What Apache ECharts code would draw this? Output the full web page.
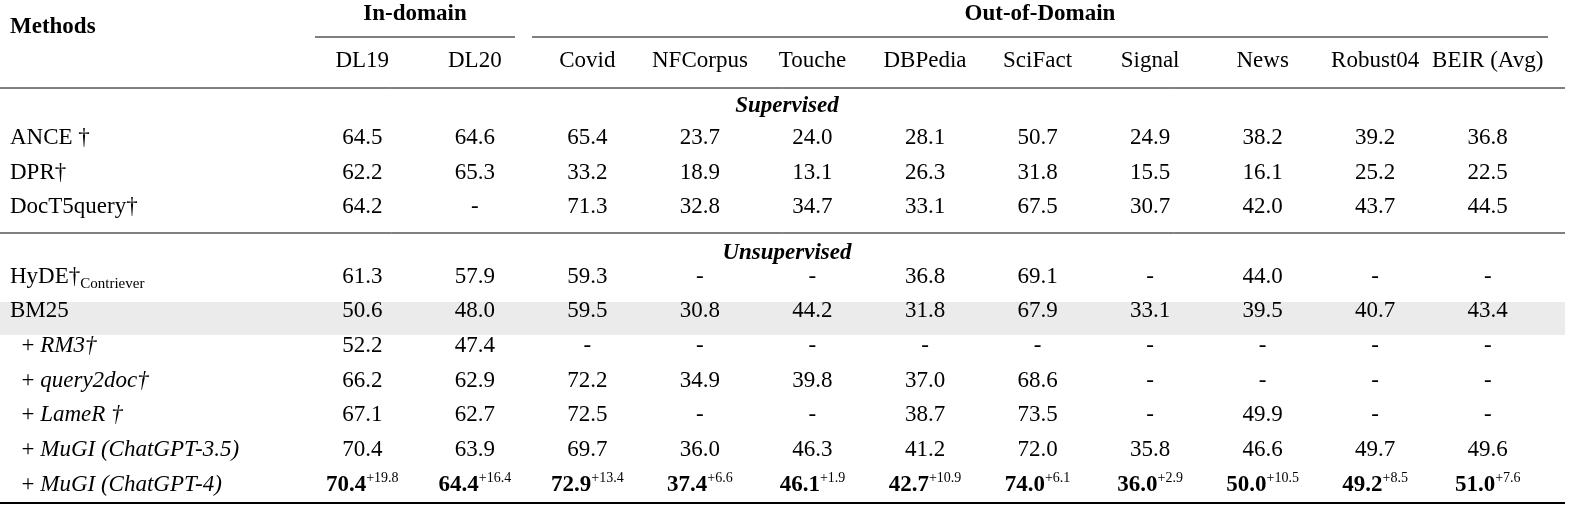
<!DOCTYPE html>
<html>
<head>
<meta charset="utf-8">
<script src="https://cdn.jsdelivr.net/npm/echarts@6/dist/echarts.min.js"></script>
<style>html,body{margin:0;background:#fff}#c{width:1574px;height:507px}</style>
</head>
<body>
<div id="c"></div>
<script>
var columns = ['DL19','DL20','Covid','NFCorpus','Touche','DBPedia','SciFact','Signal','News','Robust04','BEIR (Avg)'];
var rows = ['Supervised','ANCE †','DPR†','DocT5query†','Unsupervised','HyDE†','BM25','+ RM3†','+ query2doc†','+ LameR †','+ MuGI (ChatGPT-3.5)','+ MuGI (ChatGPT-4)'];
var ance      = ['64.5','64.6','65.4','23.7','24.0','28.1','50.7','24.9','38.2','39.2','36.8'];
var dpr       = ['62.2','65.3','33.2','18.9','13.1','26.3','31.8','15.5','16.1','25.2','22.5'];
var docT5     = ['64.2','-','71.3','32.8','34.7','33.1','67.5','30.7','42.0','43.7','44.5'];
var hyde      = ['61.3','57.9','59.3','-','-','36.8','69.1','-','44.0','-','-'];
var bm25      = ['50.6','48.0','59.5','30.8','44.2','31.8','67.9','33.1','39.5','40.7','43.4'];
var rm3       = ['52.2','47.4','-','-','-','-','-','-','-','-','-'];
var query2doc = ['66.2','62.9','72.2','34.9','39.8','37.0','68.6','-','-','-','-'];
var lamer     = ['67.1','62.7','72.5','-','-','38.7','73.5','-','49.9','-','-'];
var mugi35    = ['70.4','63.9','69.7','36.0','46.3','41.2','72.0','35.8','46.6','49.7','49.6'];
var mugi4     = ['70.4','64.4','72.9','37.4','46.1','42.7','74.0','36.0','50.0','49.2','51.0'];
var mugi4Gain = ['+19.8','+16.4','+13.4','+6.6','+1.9','+10.9','+6.1','+2.9','+10.5','+8.5','+7.6'];

var table = [[1,ance],[2,dpr],[3,docT5],[5,hyde],[6,bm25],[7,rm3],[8,query2doc],[9,lamer],[10,mugi35],[11,mugi4]];
var cells = [];
table.forEach(function (t) {
  t[1].forEach(function (v, i) {
    var txt = t[0] === 11 ? '{b|' + v + '}{sup|' + mugi4Gain[i] + '}' : v;
    cells.push([i, t[0], txt]);
  });
});

var F = 'Liberation Serif';
var FS = 23;
var chart = echarts.init(document.getElementById('c'));
chart.setOption({
  animation: false,
  textStyle: { fontFamily: F },
  grid: { left: 306, right: 30, top: 86, bottom: 5 },
  xAxis: {
    type: 'category', data: columns, position: 'top',
    axisLine: { show: false }, axisTick: { show: false },
    axisLabel: { color: '#000', fontSize: FS, fontFamily: F, margin: 14, interval: 0 }
  },
  yAxis: {
    type: 'category', data: rows, inverse: true,
    axisLine: { show: false }, axisTick: { show: false },
    axisLabel: {
      align: 'left', margin: 296, color: '#000', fontSize: FS, fontFamily: F,
      formatter: function (v) {
        if (v === 'Supervised' || v === 'Unsupervised') return '';
        if (v === 'HyDE†') return 'HyDE†{sub|Contriever}';
        if (v.indexOf('+ ') === 0) return '  + {it|' + v.slice(2) + '}';
        return v;
      },
      rich: {
        sub: { fontSize: 15, fontFamily: F, color: '#000', padding: [14, 0, 0, 0] },
        it: { fontStyle: 'italic', fontSize: FS, fontFamily: F, color: '#000' }
      }
    }
  },
  series: [{
    type: 'scatter', symbolSize: 0, data: cells,
    itemStyle: { opacity: 1 },
    label: {
      show: true, position: 'inside', color: '#000', opacity: 1, fontSize: FS, fontFamily: F,
      formatter: function (p) { return p.data[2]; },
      rich: {
        b: { fontWeight: 'bold', fontSize: FS, fontFamily: F, color: '#000' },
        sup: { fontSize: 14, fontFamily: F, color: '#000', padding: [0, 0, 12, 0] }
      }
    },
    emphasis: { disabled: true }
  }],
  graphic: [
    { type: 'rect', z: -1, shape: { x: 0, y: 302, width: 1565, height: 33 }, style: { fill: '#ebebeb' } },
    { type: 'text', x: 10, y: 27, style: { text: 'Methods', font: 'bold 23px ' + F, fill: '#000', verticalAlign: 'middle' } },
    { type: 'text', x: 415, y: 14, style: { text: 'In-domain', font: 'bold 23px ' + F, fill: '#000', align: 'center', verticalAlign: 'middle' } },
    { type: 'text', x: 1040, y: 14, style: { text: 'Out-of-Domain', font: 'bold 23px ' + F, fill: '#000', align: 'center', verticalAlign: 'middle' } },
    { type: 'text', x: 787, y: 106, style: { text: 'Supervised', font: 'italic bold 23px ' + F, fill: '#000', align: 'center', verticalAlign: 'middle' } },
    { type: 'text', x: 787, y: 253, style: { text: 'Unsupervised', font: 'italic bold 23px ' + F, fill: '#000', align: 'center', verticalAlign: 'middle' } },
    { type: 'line', shape: { x1: 315, y1: 37, x2: 515, y2: 37 }, style: { stroke: '#000', lineWidth: 1 } },
    { type: 'line', shape: { x1: 532, y1: 37, x2: 1548, y2: 37 }, style: { stroke: '#000', lineWidth: 1 } },
    { type: 'line', shape: { x1: 0, y1: 88, x2: 1565, y2: 88 }, style: { stroke: '#000', lineWidth: 1 } },
    { type: 'line', shape: { x1: 0, y1: 233, x2: 1565, y2: 233 }, style: { stroke: '#000', lineWidth: 1 } },
    { type: 'line', shape: { x1: 0, y1: 503, x2: 1565, y2: 503 }, style: { stroke: '#000', lineWidth: 2 } }
  ]
});
</script>
</body>
</html>
